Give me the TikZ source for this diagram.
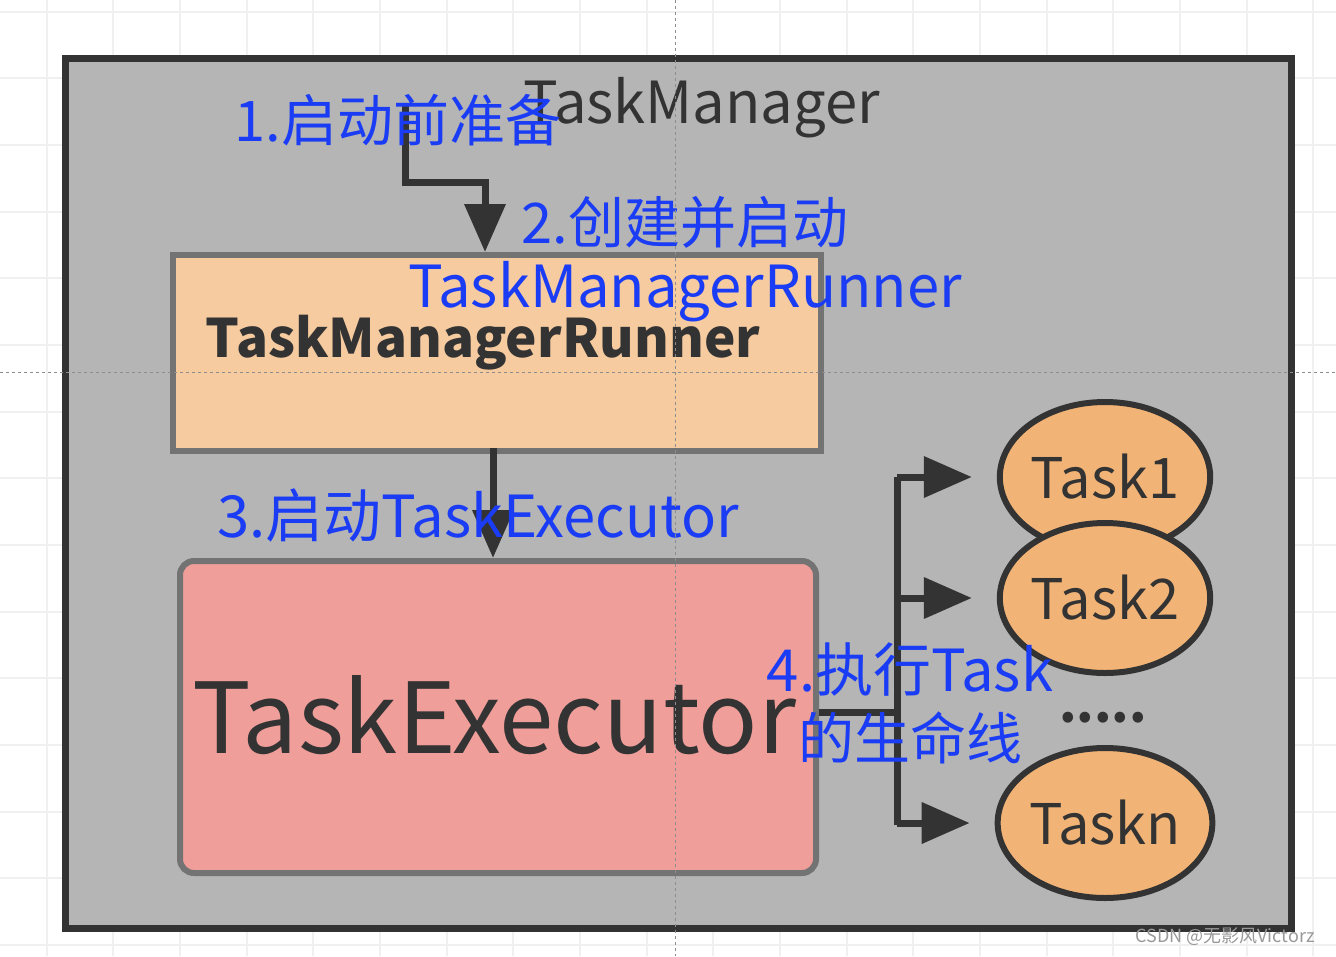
\documentclass[tikz,border=0pt]{standalone}
\usepackage{fontspec}
\setmainfont{Noto Sans CJK SC}
\usetikzlibrary{positioning,arrows.meta,shapes.geometric}
\definecolor{boxgray}{HTML}{B5B5B5}
\definecolor{runnerfill}{HTML}{F6CBA0}
\definecolor{execfill}{HTML}{F09E9A}
\definecolor{taskfill}{HTML}{F2B476}
\definecolor{ink}{HTML}{333333}
\definecolor{labelblue}{HTML}{1A3CF5}
\tikzset{
  step label/.style={text=labelblue,font=\fontsize{56}{60}\selectfont,inner sep=0pt},
  box/.style={draw=gray!110,line width=6pt,inner sep=0pt},
  task/.style={ellipse,draw=ink,line width=6pt,fill=taskfill,inner sep=0pt,minimum width=204pt,minimum height=150pt,
    font=\fontsize{56}{60}\selectfont,text=ink},
  flow/.style={draw=ink,line width=7pt,-{Triangle[length=48pt,width=40pt]}},
}
\begin{document}
\begin{tikzpicture}[x=1pt,y=-1pt]
\useasboundingbox (0,0) rectangle (1336,956);
\fill[white] (0,0) rectangle (1336,956);
%grid
\foreach \gx in {47,113,180,247,313,380,447,513,580,647,713,780,847,913,980,1047,1113,1180,1247,1313}
  \draw[black!6,line width=1.5pt] (\gx,0) -- (\gx,956);
\foreach \gy in {12,78,145,212,278,345,412,478,545,612,678,745,812,878,945}
  \draw[black!6,line width=1.5pt] (0,\gy) -- (1336,\gy);
%outer box
\node[draw=ink,line width=7pt,fill=boxgray,minimum width=1226pt,minimum height=870pt,anchor=north west] (tm) at (62,55) {};
\node[text=ink,font=\fontsize{58}{62}\selectfont] (tmlabel) at (702,108) {TaskManager};
%runner
\node[box,fill=runnerfill,minimum width=648pt,minimum height=196pt,anchor=north west] (runner) at (170,252) {};
\node[text=ink,font=\bfseries\fontsize{53}{57}\selectfont] (runnerlabel) at (483,343) {TaskManagerRunner};
%executor
\node[box,fill=execfill,rounded corners=14pt,minimum width=636pt,minimum height=312pt,anchor=north west] (exec) at (177,558) {};
\node[text=ink,font=\fontsize{98}{102}\selectfont] (execlabel) at (494,715) {TaskExecutor};
%tasks
\node[task] (task1) at (1105,477) {Task1};
\node[task] (task2) at (1105,598) {Task2};
\node[text=ink,font=\bfseries\fontsize{50}{54}\selectfont] (dots) at (1103,718) {.....};
\node[task] (taskn) at (1105,823) {Taskn};
%connectors
\coordinate (start) at (405,105);
\coordinate (bend1) at (405,182);
\coordinate (bend2) at (485,182);
\draw[flow] (start) -- (bend1) -- (bend2) -- (bend2 |- runner.north);
\draw[flow] (493,448) coordinate (down) -- (down |- exec.north);
\coordinate (fork) at (897,712);
\draw[draw=ink,line width=7pt] (exec.east |- fork) -- (fork);
\draw[draw=ink,line width=7pt] (897,477) -- (897,825);
\foreach \t in {task1,task2,taskn}
  \draw[flow] (fork |- \t) -- ([xshift=-25pt]\t.west);
%labels
\node[step label] (s1) at (398,120) {1.启动前准备};
\node[step label] (s2) at (685,222) {2.创建并启动};
\node[step label,font=\fontsize{58}{62}\selectfont] (s2b) at (685,292) {TaskManagerRunner};
\node[step label,font=\fontsize{58}{62}\selectfont] (s3) at (478,515) {3.启动TaskExecutor};
\node[step label,font=\fontsize{58}{62}\selectfont] (s4) at (910,670) {4.执行Task};
\node[step label] (s4b) at (910,738) {的生命线};
%guides
\draw[black!45,dashed,line width=1pt] (675,0) -- (675,956);
\draw[black!45,dashed,line width=1pt] (0,372) -- (1336,372);
\node[text=black!40,font=\fontsize{18}{20}\selectfont] (mark) at (1225,937) {CSDN @无影风Victorz};
\end{tikzpicture}
\end{document}
